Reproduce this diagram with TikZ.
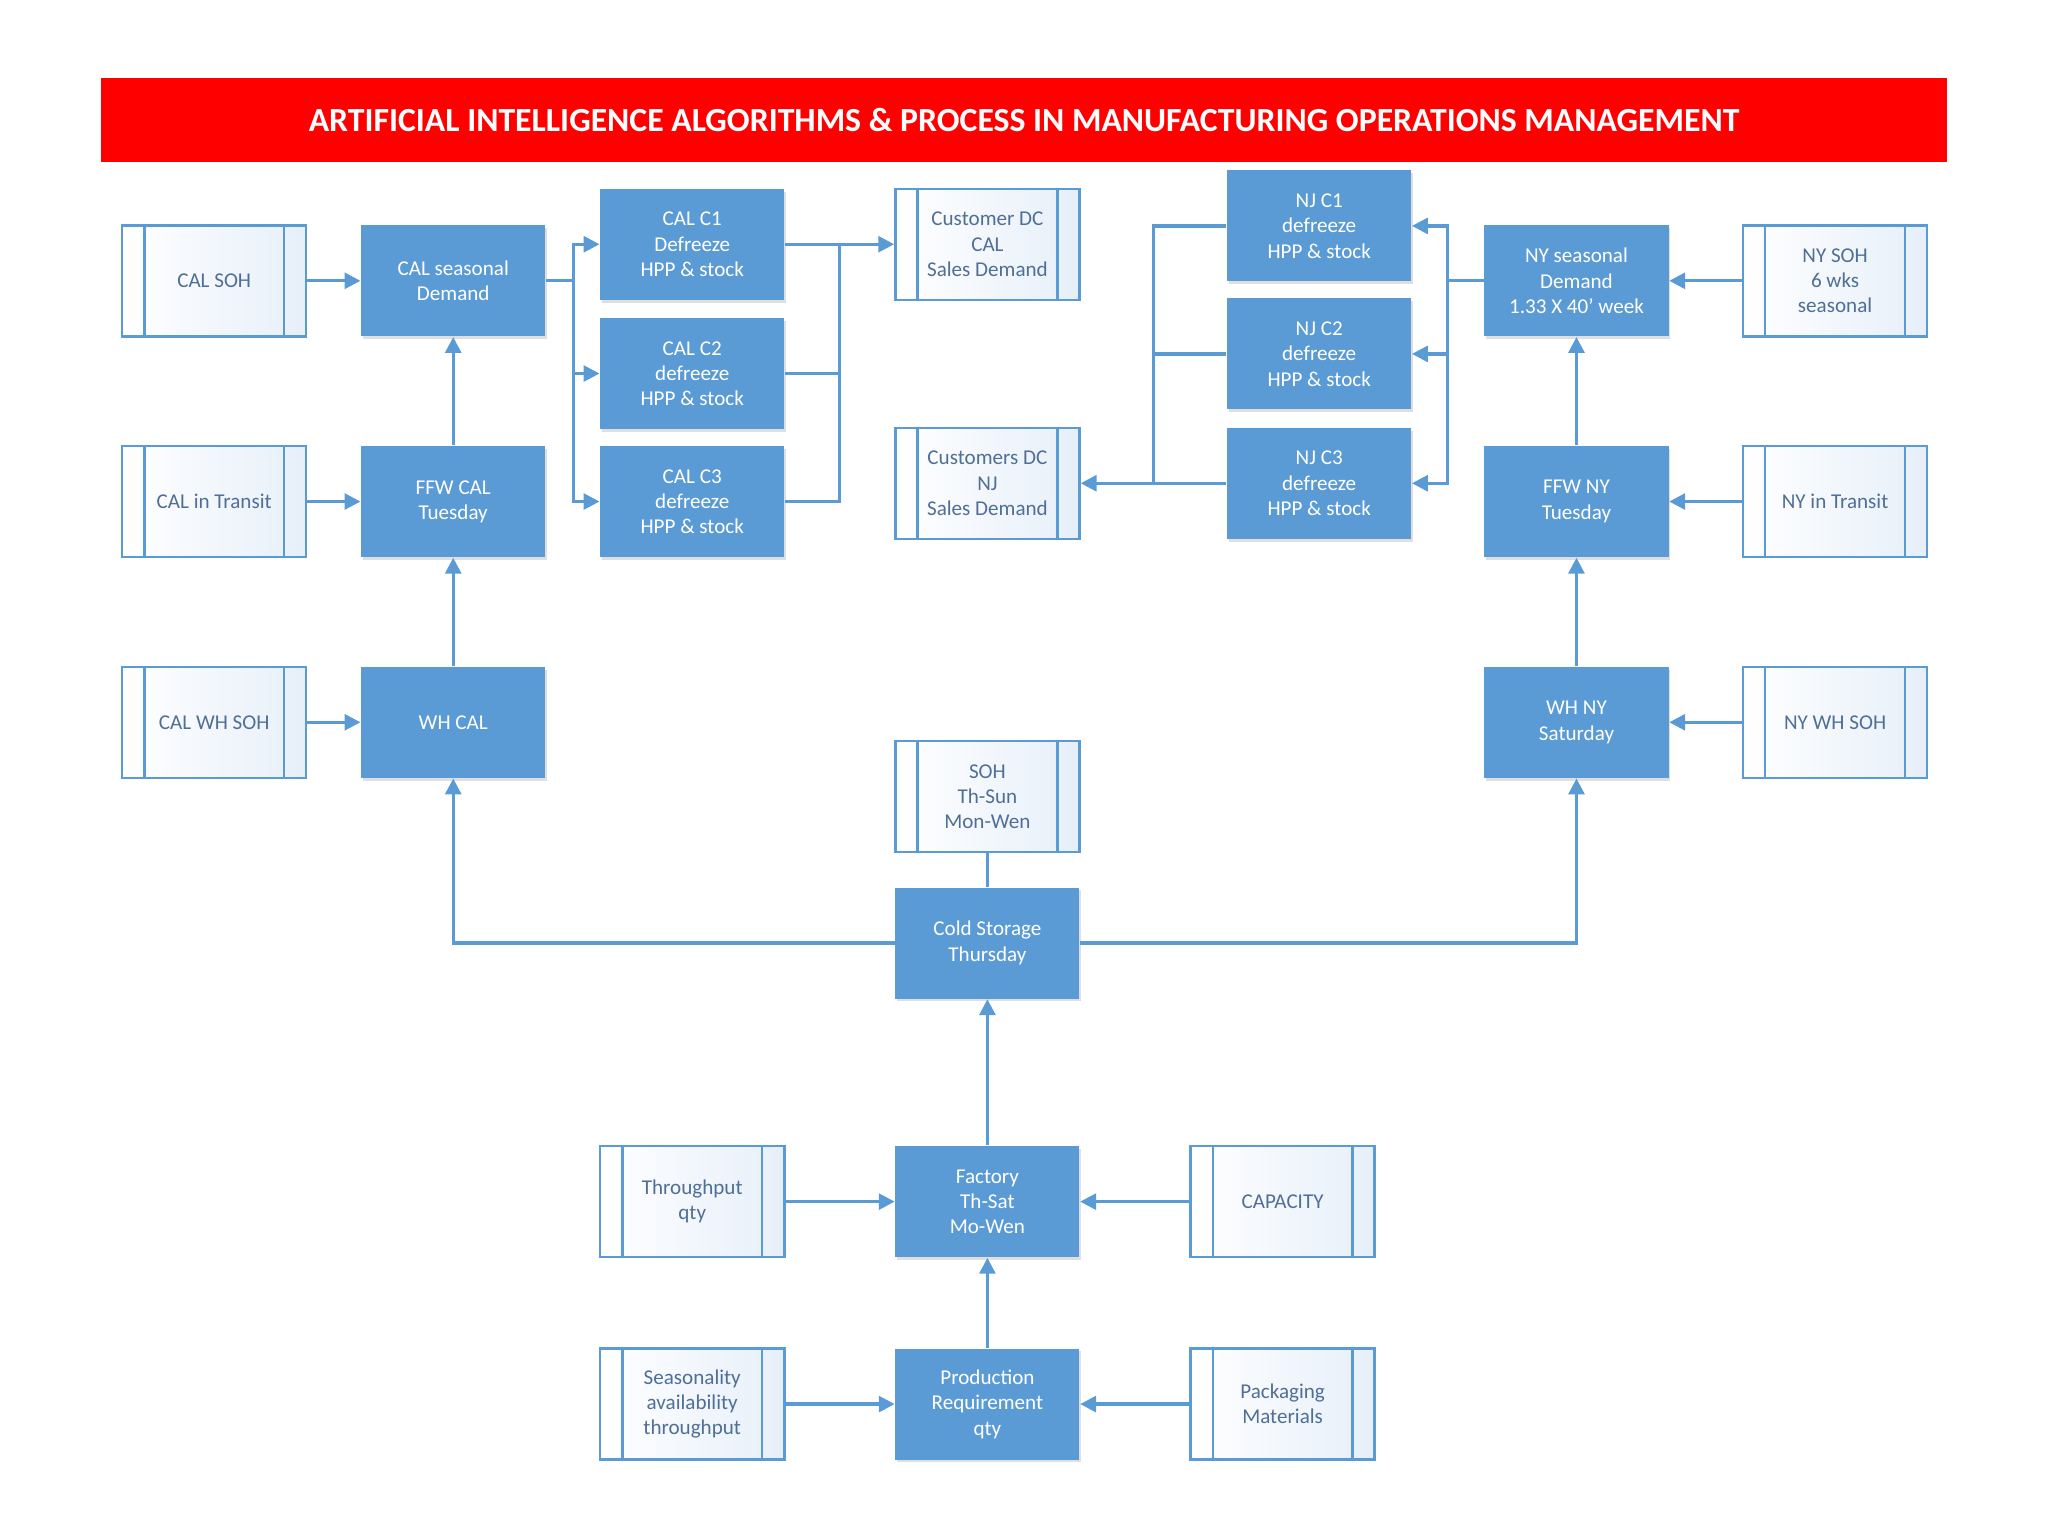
\documentclass[tikz,border=0pt]{standalone}
\usepackage{fontspec}
\setmainfont{Carlito}
\usetikzlibrary{arrows.meta,shadows}
\definecolor{bl}{HTML}{5B9BD5}
\definecolor{tx}{HTML}{4F6F96}
\definecolor{lt}{HTML}{E6EFF9}
\begin{document}
\begin{tikzpicture}[x=0.01306cm,y=-0.01306cm,
  base/.style={minimum width=1.841cm,minimum height=1.11cm,inner sep=1pt,align=center,
    font=\fontsize{6}{7.2}\selectfont},
  blue/.style={base,fill=bl,text=white,drop shadow={opacity=0.25,shadow xshift=0.5pt,shadow yshift=-0.8pt}},
  proc/.style={base,draw=bl,line width=0.7pt,left color=white,right color=lt,text=tx,
    path picture={\draw[bl,line width=0.7pt]
      ([xshift=0.222cm]path picture bounding box.north west)--([xshift=0.222cm]path picture bounding box.south west)
      ([xshift=-0.222cm]path picture bounding box.north east)--([xshift=-0.222cm]path picture bounding box.south east);}},
  ln/.style={draw=bl,line width=0.9pt},
  arr/.style={ln,-{Triangle[length=4.5pt,width=4.5pt]}}]
\useasboundingbox (0,0) rectangle (1568,1176);
\node[fill=red,minimum width=18.467cm,minimum height=0.836cm,inner sep=0pt,text=white,
  font=\fontsize{9.6}{11}\selectfont\bfseries] (title) at (784,92)
  {ARTIFICIAL INTELLIGENCE ALGORITHMS \& PROCESS IN MANUFACTURING OPERATIONS MANAGEMENT};
% left
\node[proc] (calsoh) at (164,215) {CAL SOH};
\node[proc] (caltr) at (164,384) {CAL in Transit};
\node[proc] (calwh) at (164,553) {CAL WH SOH};
\node[blue] (cals) at (347,215) {CAL seasonal\\Demand};
\node[blue] (ffwcal) at (347,384) {FFW CAL\\Tuesday};
\node[blue] (whcal) at (347,553) {WH CAL};
\node[blue] (c1) at (530,187) {CAL C1\\Defreeze\\HPP \& stock};
\node[blue] (c2) at (530,286) {CAL C2\\defreeze\\HPP \& stock};
\node[blue] (c3) at (530,384) {CAL C3\\defreeze\\HPP \& stock};
\node[proc] (cdc) at (756,187) {Customer DC\\CAL\\Sales Demand};
\node[proc] (cnj) at (756,370) {Customers DC\\NJ\\Sales Demand};
\node[blue] (n1) at (1010,173) {NJ C1\\defreeze\\HPP \& stock};
\node[blue] (n2) at (1010,271) {NJ C2\\defreeze\\HPP \& stock};
\node[blue] (n3) at (1010,370) {NJ C3\\defreeze\\HPP \& stock};
\node[blue] (nys) at (1207,215) {NY seasonal\\Demand\\1.33 X 40' week};
\node[blue] (ffwny) at (1207,384) {FFW NY\\Tuesday};
\node[blue] (whny) at (1207,553) {WH NY\\Saturday};
\node[proc] (nysoh) at (1405,215) {NY SOH\\6 wks\\seasonal};
\node[proc] (nytr) at (1405,384) {NY in Transit};
\node[proc] (nywh) at (1405,553) {NY WH SOH};
\node[proc] (soh) at (756,610) {SOH\\Th-Sun\\Mon-Wen};
\node[blue] (cold) at (756,722) {Cold Storage\\Thursday};
\node[blue] (fac) at (756,920) {Factory\\Th-Sat\\Mo-Wen};
\node[proc] (thr) at (530,920) {Throughput\\qty};
\node[proc] (cap) at (982,920) {CAPACITY};
\node[blue] (prod) at (756,1075) {Production\\Requirement\\qty};
\node[proc] (seas) at (530,1075) {Seasonality\\availability\\throughput};
\node[proc] (pack) at (982,1075) {Packaging\\Materials};
% edges
\draw[arr] (calsoh) -- (cals);
\draw[arr] (caltr) -- (ffwcal);
\draw[arr] (calwh) -- (whcal);
\draw[arr] (ffwcal) -- (cals);
\draw[arr] (whcal) -- (ffwcal);
\coordinate (s1) at (439,215);
\draw[ln] (cals.east) -- (s1);
\draw[arr] (s1) |- (c1.west);
\draw[arr] (s1) |- (c2.west);
\draw[arr] (s1) |- (c3.west);
\coordinate (j1) at (643,187);
\draw[ln] (c2.east) -| (j1);
\draw[ln] (c3.east) -| (j1);
\draw[arr] (c1.east) -- (cdc.west);
\coordinate (k1) at (1108,215);
\draw[ln] (nys.west) -- (k1);
\draw[arr] (k1) |- (n1.east);
\draw[arr] (k1) |- (n2.east);
\draw[arr] (k1) |- (n3.east);
\coordinate (m1) at (883,370);
\draw[ln] (n1.west) -| (m1);
\draw[ln] (n2.west) -| (m1);
\draw[arr] (n3.west) -- (cnj.east);
\draw[arr] (nysoh) -- (nys);
\draw[arr] (nytr) -- (ffwny);
\draw[arr] (nywh) -- (whny);
\draw[arr] (ffwny) -- (nys);
\draw[arr] (whny) -- (ffwny);
\draw[ln] (soh) -- (cold);
\draw[arr] (cold.west) -| (whcal.south);
\draw[arr] (cold.east) -| (whny.south);
\draw[arr] (fac) -- (cold);
\draw[arr] (thr) -- (fac);
\draw[arr] (cap) -- (fac);
\draw[arr] (prod) -- (fac);
\draw[arr] (seas) -- (prod);
\draw[arr] (pack) -- (prod);
\end{tikzpicture}
\end{document}
